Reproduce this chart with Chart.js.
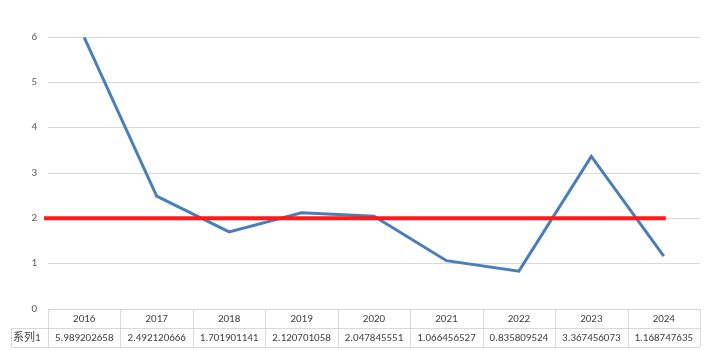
<!DOCTYPE html>
<html>
<head>
<meta charset="utf-8">
<script src="https://cdn.jsdelivr.net/npm/chart.js@4"></script>
<style>
  html, body { margin: 0; padding: 0; background: #fff; }
  #wrap { width: 706px; height: 351px; }
</style>
</head>
<body>
<div id="wrap"><canvas id="lineChart" width="706" height="351"></canvas></div>
<script>
// chart data
const years = ['2016', '2017', '2018', '2019', '2020', '2021', '2022', '2023', '2024'];
const series1 = [5.989202658, 2.492120666, 1.701901141, 2.120701058, 2.047845551,
                 1.066456527, 0.835809524, 3.367456073, 1.168747635];
const seriesName = '系列1';
const yTicks = [0, 1, 2, 3, 4, 5, 6];
const threshold = 2;

const gridColor = '#d9d9d9';
const textColor = '#595959';
const fontFamily = "Calibri, Carlito, 'Noto Sans CJK SC', 'Liberation Sans', sans-serif";

// red reference line across the plot at the threshold value
const thresholdLine = {
    id: 'thresholdLine',
    afterDatasetsDraw(chart) {
        const ctx = chart.ctx;
        const x = chart.scales.x;
        const y = chart.scales.y.getPixelForValue(threshold);
        ctx.save();
        ctx.strokeStyle = '#ff1a1a';
        ctx.lineWidth = 4;
        ctx.beginPath();
        ctx.moveTo(chart.chartArea.left - 4, y);
        ctx.lineTo(x.getPixelForValue(years.length - 1) + 2, y);
        ctx.stroke();
        ctx.restore();
    }
};

// excel style data table under the plot
const dataTable = {
    id: 'dataTable',
    afterDraw(chart) {
        const ctx = chart.ctx;
        const x = chart.scales.x;
        const area = chart.chartArea;
        const top = area.bottom;
        const rowH = 19;
        const labelLeft = 11;
        const colW = (area.right - area.left) / years.length;

        ctx.save();
        ctx.strokeStyle = gridColor;
        ctx.lineWidth = 1;
        ctx.beginPath();
        // horizontal lines
        ctx.moveTo(area.left, top + 0.5);
        ctx.lineTo(area.right, top + 0.5);
        ctx.moveTo(labelLeft, top + rowH + 0.5);
        ctx.lineTo(area.right, top + rowH + 0.5);
        ctx.moveTo(labelLeft, top + rowH * 2 + 0.5);
        ctx.lineTo(area.right, top + rowH * 2 + 0.5);
        // vertical lines
        ctx.moveTo(labelLeft + 0.5, top + rowH);
        ctx.lineTo(labelLeft + 0.5, top + rowH * 2);
        for (let i = 0; i <= years.length; i++) {
            const px = Math.round(area.left + colW * i) + 0.5;
            ctx.moveTo(px, top);
            ctx.lineTo(px, top + rowH * 2);
        }
        ctx.stroke();

        ctx.fillStyle = '#404040';
        ctx.font = '11px ' + fontFamily;
        ctx.textAlign = 'center';
        ctx.textBaseline = 'middle';
        years.forEach((yr, i) => {
            const cx = x.getPixelForValue(i);
            ctx.fillText(yr, cx, top + rowH / 2 + 1);
            ctx.fillText(String(series1[i]), cx, top + rowH * 1.5 + 1);
        });
        ctx.textAlign = 'left';
        ctx.fillText(seriesName, labelLeft + 2, top + rowH * 1.5 + 1);
        ctx.restore();
    }
};

const ctx = document.getElementById('lineChart').getContext('2d');
new Chart(ctx, {
    type: 'line',
    data: {
        labels: years,
        datasets: [{
            label: seriesName,
            data: series1,
            borderColor: '#4a7ebb',
            borderWidth: 3,
            pointRadius: 0,
            tension: 0,
            fill: false
        }]
    },
    options: {
        responsive: false,
        animation: false,
        layout: { padding: { left: 0, right: 6, top: 37, bottom: 42 } },
        plugins: {
            legend: { display: false },
            tooltip: { enabled: false }
        },
        scales: {
            x: {
                type: 'category',
                offset: true,
                display: false
            },
            y: {
                min: 0,
                max: 6,
                afterBuildTicks(scale) {
                    scale.ticks = yTicks.map(v => ({ value: v }));
                },
                afterFit(scale) {
                    scale.width = 48;
                },
                border: { display: false },
                grid: { color: gridColor, drawTicks: false },
                ticks: {
                    color: textColor,
                    padding: 11,
                    font: { size: 11, family: fontFamily }
                }
            }
        }
    },
    plugins: [thresholdLine, dataTable]
});
</script>
</body>
</html>
